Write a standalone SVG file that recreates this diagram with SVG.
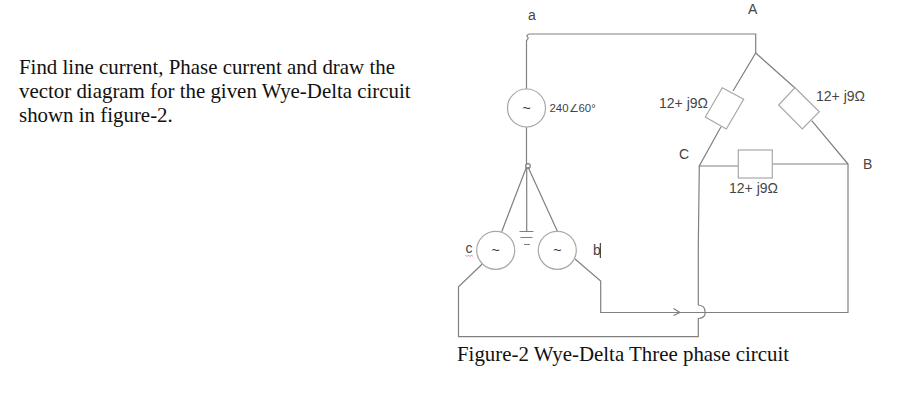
<svg xmlns="http://www.w3.org/2000/svg" width="910" height="401" viewBox="0 0 910 401">
<style>
.w{fill:none;stroke:#808080;stroke-width:1.2}
.b{fill:#fff;stroke:#a8a8a8;stroke-width:1.2}
.l{font-family:"Liberation Sans",Arial,sans-serif;font-size:14px;fill:#444}
.t{font-family:"Liberation Serif","Times New Roman",serif;font-size:20.9px;fill:#111}
.g{font-family:"Liberation Sans",Arial,sans-serif;font-size:14px;fill:#333;text-anchor:middle}
</style>
<rect width="910" height="401" fill="#fff"/>
<g id="connectors">
<path class="w" d="M529 34H755.7V53M526.5 90V40.5Q529.5 38 527 36.5Q526.5 35 529 34"/>
<path class="w" d="M526.5 127V165M526.5 167L501.7 231.7M528 167L557.5 231.5M526.7 167V231"/>
<path class="w" d="M519.5 231.5H533.5M520.5 237.5H532.5M524 244.5H530"/>
<path class="w" d="M482.3 264L458.5 286.7V336.7H698.3V318.5Q706 318 705 311.5Q705 305.5 698.3 305V245L699.3 166"/>
<path class="w" d="M721 126.7L699.3 166H738.3M733 91L755.7 53L795 88"/>
<path class="w" d="M575 259L600.7 281V312.5H848V164H772.3M848 164L811.7 120.7"/>
<path class="w" d="M673.5 308.5L680 312.5L673.5 315.5"/>
<circle class="w" cx="528" cy="166" r="2.3"/>
</g>
<g id="source-a"><circle class="b" cx="526.5" cy="108" r="19"/><text class="g" x="526.5" y="113">~</text><text class="l" x="549.5" y="112" style="font-size:11.4px">240∠60°</text></g>
<g id="source-c"><circle class="b" cx="495.7" cy="250.3" r="19"/><text class="g" x="495.7" y="255">~</text></g>
<g id="source-b"><circle class="b" cx="557.3" cy="250.3" r="19"/><text class="g" x="557.3" y="255">~</text></g>
<g id="node-a"><text class="l" x="528" y="20">a</text></g>
<g id="node-A"><text class="l" x="748" y="14">A</text></g>
<g id="node-B"><text class="l" x="863" y="169">B</text></g>
<g id="node-C"><text class="l" x="679" y="159">C</text></g>
<g id="node-c"><text class="l" x="465.5" y="253">c</text><path d="M465.5 255.5l1.5 .8 1.5-.8 1.5 .8 1.5-.8 1.5 .8" fill="none" stroke="#e06060" stroke-width=".7"/></g>
<g id="node-b"><text class="l" x="593" y="255">b</text><path d="M600.3 243V258" stroke="#222" stroke-width="1"/></g>
<g id="load-ac"><path class="b" d="M722.3 87.7L743.7 99.3L726.3 129L705.3 117Z"/><text class="l" x="659" y="108">12+ j9Ω</text></g>
<g id="load-ab"><path class="b" d="M795 87.7L819.3 111.7L802.3 129L778.7 105Z"/><text class="l" x="816" y="101">12+ j9Ω</text></g>
<g id="load-bc"><rect class="b" x="738.3" y="150" width="34" height="28"/><text class="l" x="729" y="193">12+ j9Ω</text></g>
<g id="prompt"><text class="t" x="19" y="74">Find line current, Phase current and draw the</text><text class="t" x="19" y="98">vector diagram for the given Wye-Delta circuit</text><text class="t" x="19" y="122">shown in figure-2.</text></g>
<g id="caption"><text class="t" x="457" y="361">Figure-2 Wye-Delta Three phase circuit</text></g>
</svg>
